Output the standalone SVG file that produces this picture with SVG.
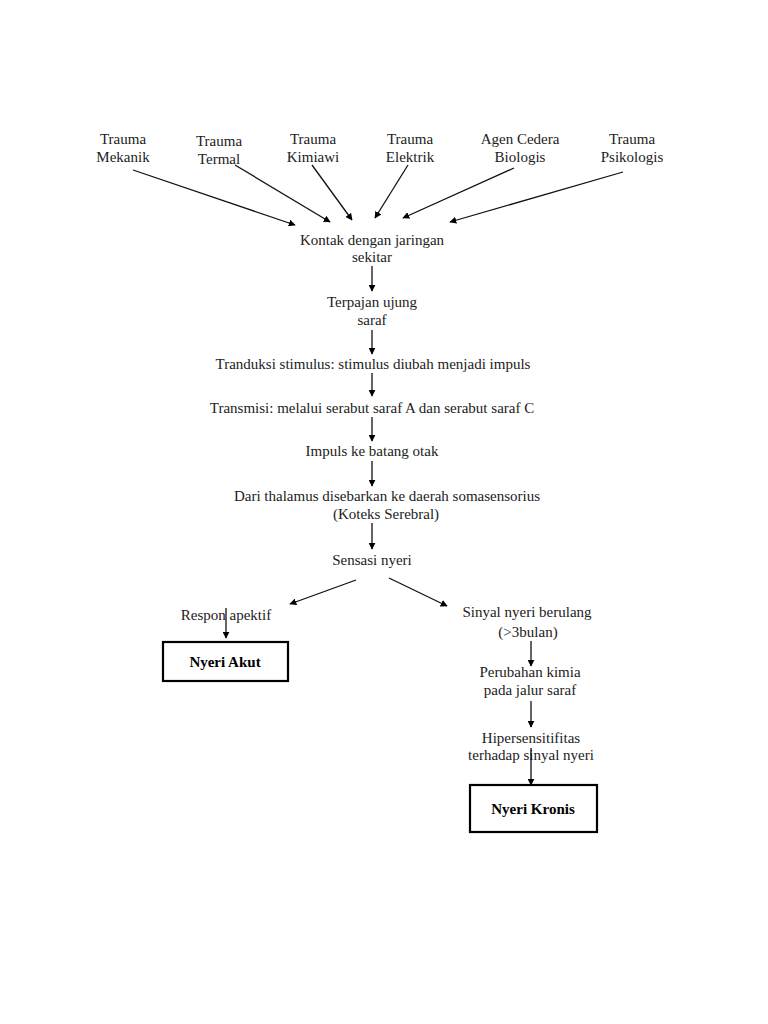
<svg xmlns="http://www.w3.org/2000/svg" width="768" height="1024" viewBox="0 0 768 1024">
<defs>
<marker id="ah" viewBox="0 0 10 10" refX="9" refY="5" markerWidth="7" markerHeight="7" orient="auto" markerUnits="userSpaceOnUse">
<path d="M0,0 L10,5 L0,10 z" fill="#000"/>
</marker>
<style>
text{font-family:"Liberation Serif","Times New Roman",serif;font-size:15px;fill:#222;text-anchor:middle}
.b{font-weight:bold;fill:#000}
.c{stroke:#111;stroke-width:1.3;fill:none;marker-end:url(#ah)}
.box{fill:#fff;stroke:#000;stroke-width:2.2}
</style>
</defs>
<rect width="768" height="1024" fill="#fff"/>
<g id="n-mekanik"><text x="123" y="144">Trauma</text><text x="123" y="162">Mekanik</text></g>
<g id="n-termal"><text x="219" y="146">Trauma</text><text x="219" y="164">Termal</text></g>
<g id="n-kimiawi"><text x="313" y="144">Trauma</text><text x="313" y="162">Kimiawi</text></g>
<g id="n-elektrik"><text x="410" y="144">Trauma</text><text x="410" y="162">Elektrik</text></g>
<g id="n-biologis"><text x="520" y="144">Agen Cedera</text><text x="520" y="162">Biologis</text></g>
<g id="n-psikologis"><text x="632" y="144">Trauma</text><text x="632" y="162">Psikologis</text></g>
<g id="n-kontak"><text x="372" y="245">Kontak dengan jaringan</text><text x="372" y="262">sekitar</text></g>
<g id="n-terpajan"><text x="372" y="307">Terpajan ujung</text><text x="372" y="325">saraf</text></g>
<g id="n-tranduksi"><text x="373" y="369">Tranduksi stimulus: stimulus diubah menjadi impuls</text></g>
<g id="n-transmisi"><text x="372" y="413">Transmisi: melalui serabut saraf A dan serabut saraf C</text></g>
<g id="n-impuls"><text x="372" y="456">Impuls ke batang otak</text></g>
<g id="n-thalamus"><text x="387" y="501">Dari thalamus disebarkan ke daerah somasensorius</text><text x="386" y="519">(Koteks Serebral)</text></g>
<g id="n-sensasi"><text x="372" y="565">Sensasi nyeri</text></g>
<g id="n-respon"><text x="226" y="620">Respon apektif</text></g>
<g id="n-akut"><rect class="box" x="163" y="642" width="125" height="39"/><text class="b" x="225" y="667">Nyeri Akut</text></g>
<g id="n-sinyal"><text x="527" y="617">Sinyal nyeri berulang</text><text x="528" y="637">(&gt;3bulan)</text></g>
<g id="n-perubahan"><text x="530" y="677">Perubahan kimia</text><text x="530" y="695">pada jalur saraf</text></g>
<g id="n-hiper"><text x="531" y="743">Hipersensitifitas</text><text x="531" y="760">terhadap sinyal nyeri</text></g>
<g id="n-kronis"><rect class="box" x="470" y="785" width="127" height="47"/><text class="b" x="533" y="814">Nyeri Kronis</text></g>
<g id="connectors">
<line class="c" x1="133" y1="170" x2="295" y2="225"/>
<line class="c" x1="235" y1="165" x2="330" y2="222"/>
<line class="c" x1="312" y1="165" x2="352" y2="220"/>
<line class="c" x1="408" y1="165" x2="375" y2="218"/>
<line class="c" x1="514" y1="168" x2="403" y2="218"/>
<line class="c" x1="623" y1="172" x2="450" y2="222"/>
<line class="c" x1="372" y1="266" x2="372" y2="291"/>
<line class="c" x1="372" y1="330" x2="372" y2="354"/>
<line class="c" x1="372" y1="373" x2="372" y2="396"/>
<line class="c" x1="372" y1="417" x2="372" y2="441"/>
<line class="c" x1="372" y1="461" x2="372" y2="486"/>
<line class="c" x1="372" y1="523" x2="372" y2="549"/>
<line class="c" x1="356" y1="580" x2="290" y2="604"/>
<line class="c" x1="389" y1="578" x2="447" y2="606"/>
<line class="c" x1="226" y1="608" x2="226" y2="638"/>
<line class="c" x1="531" y1="641" x2="531" y2="666"/>
<line class="c" x1="531" y1="701" x2="531" y2="727"/>
<line class="c" x1="531" y1="748" x2="531" y2="785"/>
</g>
</svg>
